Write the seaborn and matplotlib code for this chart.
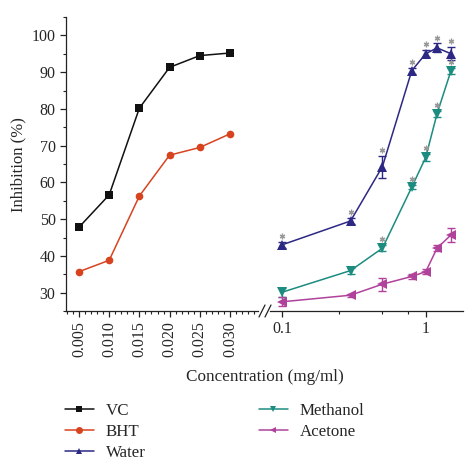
import numpy as np
import pandas as pd
import seaborn as sns
import matplotlib
matplotlib.use("Agg")
from matplotlib import pyplot as plt
from matplotlib.lines import Line2D
from matplotlib.ticker import MultipleLocator, FixedLocator, NullFormatter

# standards (left panel, linear)
std_conc = [0.005, 0.010, 0.015, 0.020, 0.025, 0.030]
vc = [47.8, 56.6, 80.2, 91.3, 94.5, 95.2]
bht = [35.7, 38.8, 56.3, 67.4, 69.5, 73.2]

# extracts (right panel, log)
ext_conc = [0.1, 0.3, 0.5, 0.8, 1.0, 1.2, 1.5]
water = [43.0, 49.5, 64.3, 90.4, 95.0, 96.6, 95.0]
water_err = [0.8, 0.8, 3.0, 0.8, 1.0, 1.2, 1.8]
methanol = [30.1, 36.0, 42.1, 58.7, 66.8, 78.7, 90.4]
methanol_err = [1.2, 0.8, 0.8, 0.6, 1.0, 0.8, 0.8]
acetone = [27.5, 29.3, 32.3, 34.4, 35.7, 42.1, 45.7]
acetone_err = [1.2, 0.4, 1.8, 0.6, 0.6, 0.8, 1.8]

# significance stars (True = "*")
water_sig = [True, True, True, True, True, True, True]
methanol_sig = [False, False, True, True, True, True, True]

colors = {"VC": "#111111", "BHT": "#d8431f", "Water": "#2c2883",
          "Methanol": "#1c8c80", "Acetone": "#b0429c"}
markers = {"VC": "s", "BHT": "o", "Water": "^", "Methanol": "v", "Acetone": "<"}

sns.set_style("ticks")
plt.rcParams["font.family"] = ["Liberation Serif", "DejaVu Serif"]

df_std = pd.DataFrame({
    "conc": std_conc * 2,
    "inh": vc + bht,
    "sample": ["VC"] * len(vc) + ["BHT"] * len(bht),
})
df_ext = pd.DataFrame({
    "conc": ext_conc * 3,
    "inh": water + methanol + acetone,
    "sample": ["Water"] * 7 + ["Methanol"] * 7 + ["Acetone"] * 7,
})

fig = plt.figure(figsize=(4.74, 4.74), dpi=100)
W = H = 474
ax1 = fig.add_axes([66 / W, 1 - 311 / H, 192 / W, 294 / H])
ax2 = fig.add_axes([270 / W, 1 - 311 / H, 193 / W, 294 / H], sharey=ax1)

sns.lineplot(data=df_std, x="conc", y="inh", hue="sample", style="sample",
             palette=colors, markers=markers, dashes=False, markersize=5.5,
             markeredgewidth=0, linewidth=1.1, legend=False, ax=ax1)
sns.lineplot(data=df_ext, x="conc", y="inh", hue="sample", style="sample",
             palette=colors, markers=markers, dashes=False, markersize=6.5,
             markeredgewidth=0, linewidth=1.1, legend=False, ax=ax2)

for name, vals, errs in [("Water", water, water_err),
                         ("Methanol", methanol, methanol_err),
                         ("Acetone", acetone, acetone_err)]:
    ax2.errorbar(ext_conc, vals, yerr=errs, fmt="none", ecolor=colors[name],
                 elinewidth=1.0, capsize=3, capthick=1.0)

for vals, errs, sig in [(water, water_err, water_sig),
                        (methanol, methanol_err, methanol_sig)]:
    xs = [c for c, s in zip(ext_conc, sig) if s]
    ys = [v + e + 1.6 for v, e, s in zip(vals, errs, sig) if s]
    ax2.plot(xs, ys, linestyle="none", marker=(6, 2, 0), markersize=4,
             color="#999999", markeredgewidth=0.9)

# left panel axes
ax1.set_xlim(0.00285, 0.03464)
ax1.set_ylim(25, 105)
ax1.xaxis.set_major_locator(FixedLocator(std_conc))
ax1.set_xticklabels(["0.005", "0.010", "0.015", "0.020", "0.025", "0.030"],
                    rotation=90)
ax1.xaxis.set_minor_locator(MultipleLocator(0.001))
ax1.yaxis.set_major_locator(FixedLocator([30, 40, 50, 60, 70, 80, 90, 100]))
ax1.yaxis.set_minor_locator(MultipleLocator(5))
for s in ["top", "right"]:
    ax1.spines[s].set_visible(False)

# right panel axes
ax2.set_xscale("log")
ax2.set_xlim(0.0825, 1.818)
ax2.xaxis.set_major_locator(FixedLocator([0.1, 1]))
ax2.set_xticklabels(["0.1", "1"])
ax2.xaxis.set_minor_locator(FixedLocator([0.25, 0.5, 0.75]))
ax2.xaxis.set_minor_formatter(NullFormatter())
for s in ["top", "right", "left"]:
    ax2.spines[s].set_visible(False)

for ax in (ax1, ax2):
    ax.set_xlabel("")
    ax.set_ylabel("")
    ax.tick_params(which="major", direction="out", length=4, width=0.9,
                   labelsize=11.5, color="#222222")
    ax.tick_params(which="minor", direction="out", length=2.2, width=0.8,
                   color="#222222")
    for s in ["left", "bottom"]:
        ax.spines[s].set_linewidth(0.9)
        ax.spines[s].set_color("#222222")
ax2.tick_params(axis="y", which="both", left=False, labelleft=False)

# axis break marks
y_ax = 1 - 311 / H
for dx in (259, 265):
    fig.add_artist(Line2D([dx / W, (dx + 6) / W], [y_ax - 6 / H, y_ax + 6 / H],
                          color="#222222", lw=0.9))

fig.text(265 / W, 1 - 377 / H, "Concentration (mg/ml)", ha="center",
         va="center", fontsize=12.3)
fig.text(18 / W, 1 - 165 / H, "Inhibition (%)", ha="center", va="center",
         rotation=90, fontsize=12)

order = ["VC", "BHT", "Water", "Methanol", "Acetone"]
handles = [Line2D([], [], color=colors[n], marker=markers[n], markersize=5,
                  markeredgewidth=0, lw=1.1) for n in order]
fig.legend(handles, order, loc="upper left", bbox_to_anchor=(65 / W, 1 - 403 / H),
           ncol=2, frameon=False, fontsize=12.2, handlelength=1.7,
           handletextpad=0.7, columnspacing=6.7, labelspacing=0.3,
           borderpad=0, borderaxespad=0)

fig.savefig("out.png", dpi=100)
